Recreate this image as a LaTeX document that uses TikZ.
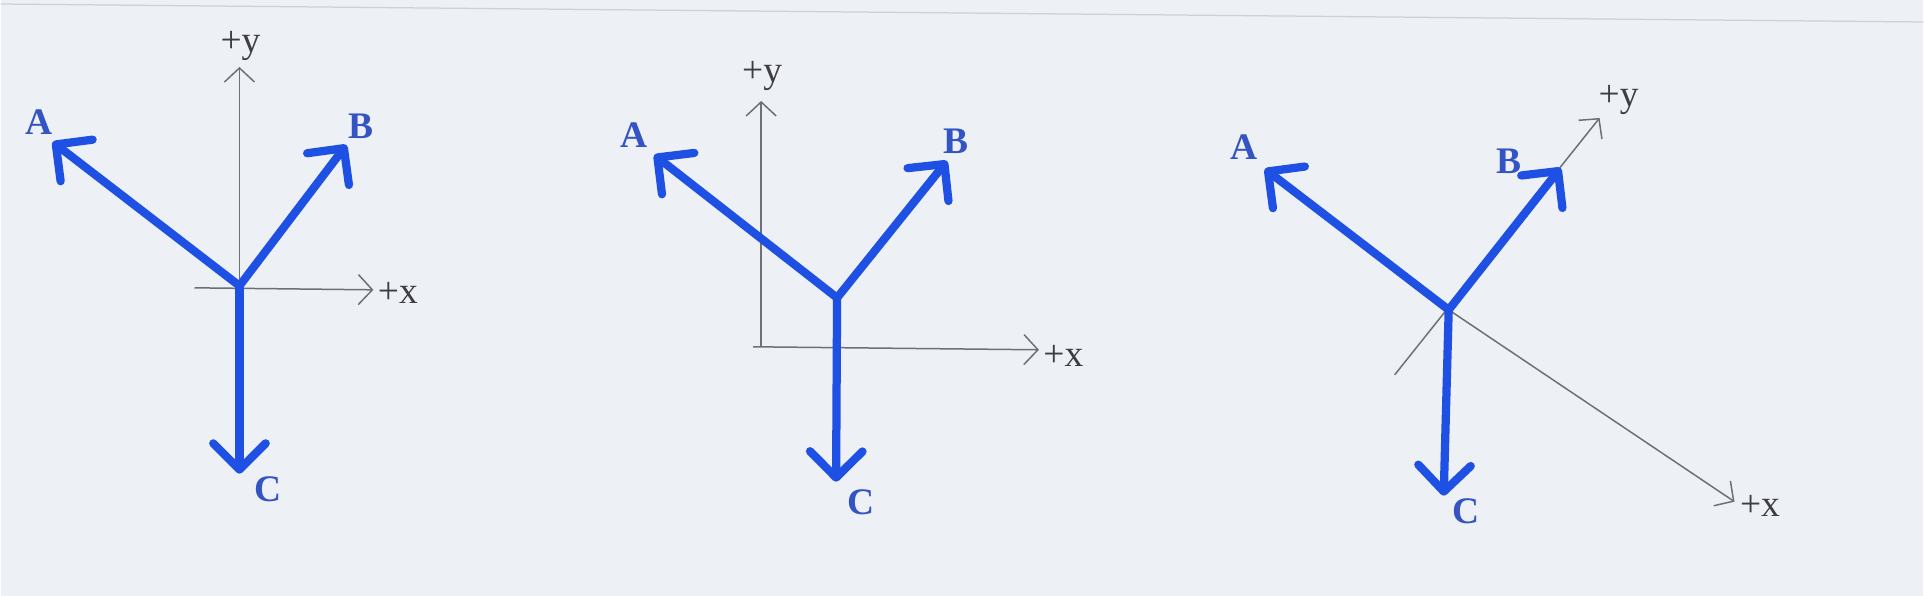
\documentclass[tikz,border=0pt]{standalone}
\usepackage{fontspec}
\setmainfont{Liberation Serif}
\usetikzlibrary{arrows.meta}
\definecolor{vecblue}{RGB}{30,80,228}
\definecolor{lblblue}{RGB}{52,84,196}
\definecolor{axisgray}{RGB}{112,112,116}
\definecolor{txtgray}{RGB}{62,62,66}
\definecolor{bgcol}{RGB}{237,240,244}
\definecolor{edgegray}{RGB}{205,208,212}

\begin{document}
\begin{tikzpicture}[%
    x=0.4pt,
    y=-0.4pt,
    vec/.style={%
      draw=vecblue,
      line width=3.3pt,
      line cap=round,
      -{Straight Barb[length=10.5pt,width=21pt,round]}
    },
    axis/.style={%
      draw=axisgray,
      line width=0.6pt,
      -{Straight Barb[length=5.6pt,width=12pt]}
    },
    vlabel/.style={text=lblblue, font=\bfseries\fontsize{15}{15}\selectfont, inner sep=0pt},
    alabel/.style={text=txtgray, font=\fontsize{15}{15}\selectfont, inner sep=0pt}
  ]
    \fill[bgcol] (0,0) rectangle (1924,596);
    \draw[edgegray, line width=0.5pt] (0,4) -- (1924,22);

    % left: axes at the joint
    \coordinate (o1)  at (239,286);
    \coordinate (xs1) at (194,288);
    \coordinate (xt1) at (373,290);
    \coordinate (yt1) at (239,67);
    \node[alabel] (py1) at (240,46)  {+y};
    \node[alabel, anchor=west] (px1) at (377,293) {+x};
    \draw[axis] (o1) -- (yt1);
    \draw[axis] (xs1) -- (xt1);
    \coordinate (a1) at (52,142);
    \coordinate (b1) at (346,145);
    \coordinate (c1) at (239,474);
    \node[vlabel] (la1) at (38,122)  {A};
    \node[vlabel] (lb1) at (361,126) {B};
    \node[vlabel] (lc1) at (268,490) {C};
    \draw[vec] (o1) -- (a1);
    \draw[vec] (o1) -- (b1);
    \draw[vec] (o1) -- (c1);

    % middle: axes moved off the joint
    \coordinate (ao2) at (761,347);
    \coordinate (xs2) at (753,347);
    \coordinate (xt2) at (1039,350);
    \coordinate (yt2) at (761,101);
    \node[alabel] (py2) at (762,76) {+y};
    \node[alabel, anchor=west] (px2) at (1043,356) {+x};
    \draw[axis] (ao2) -- (yt2);
    \draw[axis] (xs2) -- (xt2);
    \coordinate (o2) at (837,298);
    \coordinate (a2) at (654,155);
    \coordinate (b2) at (947,161);
    \coordinate (c2) at (836,482);
    \node[vlabel] (la2) at (634,135) {A};
    \node[vlabel] (lb2) at (956,141) {B};
    \node[vlabel] (lc2) at (861,503) {C};
    \draw[vec] (o2) -- (a2);
    \draw[vec] (o2) -- (b2);
    \draw[vec] (o2) -- (c2);

    % right: axes turned
    \coordinate (o3)  at (1449,310);
    \coordinate (ys3) at (1395,375);
    \coordinate (yt3) at (1600,118);
    \coordinate (xt3) at (1735,502);
    \node[alabel] (py3) at (1619,100) {+y};
    \node[alabel, anchor=west] (px3) at (1740,506) {+x};
    \draw[axis] (ys3) -- (yt3);
    \draw[axis] (o3) -- (xt3);
    \coordinate (a3) at (1265,169);
    \coordinate (b3) at (1561,168);
    \coordinate (c3) at (1444,496);
    \node[vlabel] (la3) at (1244,147) {A};
    \node[vlabel] (lb3) at (1509,161) {B};
    \node[vlabel] (lc3) at (1466,512) {C};
    \draw[vec] (o3) -- (a3);
    \draw[vec] (o3) -- (b3);
    \draw[vec] (o3) -- (c3);
\end{tikzpicture}
\end{document}
